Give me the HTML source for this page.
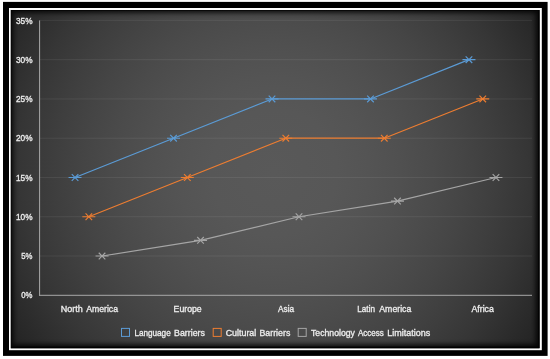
<!DOCTYPE html>
<html lang="en"><head><meta charset="utf-8"><title>Chart</title>
<style>
html,body{margin:0;padding:0;background:#fff;}
body{width:550px;height:359px;overflow:hidden;position:relative;}
svg{display:block;position:absolute;left:0;top:0;}
text{font-family:"Liberation Sans",Arial,sans-serif;font-size:8.7px;fill:#ececec;stroke:#ececec;stroke-width:0.32px;}
</style></head><body>
<svg width="550" height="359" viewBox="0 0 550 359">
<defs>
<radialGradient id="bg" gradientUnits="userSpaceOnUse" cx="274" cy="172" r="316">
<stop offset="0.0" stop-color="#595959"/>
<stop offset="0.1" stop-color="#585858"/>
<stop offset="0.2" stop-color="#575757"/>
<stop offset="0.3" stop-color="#545454"/>
<stop offset="0.4" stop-color="#505050"/>
<stop offset="0.5" stop-color="#4b4b4b"/>
<stop offset="0.6" stop-color="#454545"/>
<stop offset="0.7" stop-color="#3e3e3e"/>
<stop offset="0.8" stop-color="#363636"/>
<stop offset="0.9" stop-color="#2c2c2c"/>
<stop offset="1.0" stop-color="#222222"/>
</radialGradient>
<filter id="blur" x="-5%" y="-5%" width="110%" height="110%"><feGaussianBlur stdDeviation="2.6"/></filter>
<clipPath id="inner"><rect x="11" y="10.5" width="528" height="337.8"/></clipPath>
</defs>
<rect x="0" y="0" width="550" height="359" fill="#ffffff"/>
<rect x="3" y="1.9" width="544.6" height="354.0" fill="#000000"/>
<rect x="9" y="8" width="532.8" height="342.2" fill="#ffffff"/>
<rect x="10.7" y="10" width="529.1" height="338.3" fill="#000000"/>
<rect x="11.4" y="10.8" width="526.8" height="335.8" fill="url(#bg)"/>
<g clip-path="url(#inner)"><rect x="9.8" y="9.3" width="529.4" height="338.6" fill="none" stroke="#000" stroke-opacity="0.85" stroke-width="7" filter="url(#blur)"/></g>

<line x1="39.6" x2="532.0" y1="256.03" y2="256.03" stroke="#ffffff" stroke-opacity="0.075" stroke-width="1"/>
<line x1="39.6" x2="532.0" y1="216.76" y2="216.76" stroke="#ffffff" stroke-opacity="0.075" stroke-width="1"/>
<line x1="39.6" x2="532.0" y1="177.49" y2="177.49" stroke="#ffffff" stroke-opacity="0.075" stroke-width="1"/>
<line x1="39.6" x2="532.0" y1="138.21" y2="138.21" stroke="#ffffff" stroke-opacity="0.075" stroke-width="1"/>
<line x1="39.6" x2="532.0" y1="98.94" y2="98.94" stroke="#ffffff" stroke-opacity="0.075" stroke-width="1"/>
<line x1="39.6" x2="532.0" y1="59.67" y2="59.67" stroke="#ffffff" stroke-opacity="0.075" stroke-width="1"/>
<line x1="39.6" x2="532.0" y1="20.40" y2="20.40" stroke="#ffffff" stroke-opacity="0.075" stroke-width="1"/>
<line x1="39.6" x2="39.6" y1="20.40" y2="295.8" stroke="#a8a8a8" stroke-width="1"/>
<line x1="39.1" x2="532.0" y1="295.3" y2="295.3" stroke="#a8a8a8" stroke-width="1"/>
<text x="21.30" y="298.40" textLength="11.2" lengthAdjust="spacingAndGlyphs">0%</text>
<text x="21.30" y="259.13" textLength="11.2" lengthAdjust="spacingAndGlyphs">5%</text>
<text x="16.00" y="219.86" textLength="16.5" lengthAdjust="spacingAndGlyphs">10%</text>
<text x="16.00" y="180.59" textLength="16.5" lengthAdjust="spacingAndGlyphs">15%</text>
<text x="16.00" y="141.31" textLength="16.5" lengthAdjust="spacingAndGlyphs">20%</text>
<text x="16.00" y="102.04" textLength="16.5" lengthAdjust="spacingAndGlyphs">25%</text>
<text x="16.00" y="62.77" textLength="16.5" lengthAdjust="spacingAndGlyphs">30%</text>
<text x="16.00" y="23.50" textLength="16.5" lengthAdjust="spacingAndGlyphs">35%</text>
<text y="311.9"><tspan x="60.70" textLength="22.00" lengthAdjust="spacingAndGlyphs">North</tspan> <tspan x="86.20" textLength="31.80" lengthAdjust="spacingAndGlyphs">America</tspan></text>
<text y="311.9"><tspan x="173.60" textLength="28.10" lengthAdjust="spacingAndGlyphs">Europe</tspan></text>
<text y="311.9"><tspan x="278.10" textLength="16.10" lengthAdjust="spacingAndGlyphs">Asia</tspan></text>
<text y="311.9"><tspan x="357.30" textLength="17.70" lengthAdjust="spacingAndGlyphs">Latin</tspan> <tspan x="379.30" textLength="32.00" lengthAdjust="spacingAndGlyphs">America</tspan></text>
<text y="311.9"><tspan x="471.50" textLength="22.30" lengthAdjust="spacingAndGlyphs">Africa</tspan></text>
<polyline fill="none" stroke="#5b9bd5" stroke-width="1.2" stroke-linejoin="round" points="75.04,177.49 173.52,138.21 272.00,98.94 370.48,98.94 468.96,59.67"/>
<path d="M71.74 174.19L78.34 180.79M71.74 180.79L78.34 174.19M68.54 177.49L81.54 177.49" stroke="#5b9bd5" stroke-width="1.15" fill="none"/>
<path d="M170.22 134.91L176.82 141.51M170.22 141.51L176.82 134.91M167.02 138.21L180.02 138.21" stroke="#5b9bd5" stroke-width="1.15" fill="none"/>
<path d="M268.70 95.64L275.30 102.24M268.70 102.24L275.30 95.64M265.50 98.94L278.50 98.94" stroke="#5b9bd5" stroke-width="1.15" fill="none"/>
<path d="M367.18 95.64L373.78 102.24M367.18 102.24L373.78 95.64M363.98 98.94L376.98 98.94" stroke="#5b9bd5" stroke-width="1.15" fill="none"/>
<path d="M465.66 56.37L472.26 62.97M465.66 62.97L472.26 56.37M462.46 59.67L475.46 59.67" stroke="#5b9bd5" stroke-width="1.15" fill="none"/>
<polyline fill="none" stroke="#ed7d31" stroke-width="1.2" stroke-linejoin="round" points="88.84,216.76 187.32,177.49 285.80,138.21 384.28,138.21 482.76,98.94"/>
<path d="M85.54 213.46L92.14 220.06M85.54 220.06L92.14 213.46M82.34 216.76L95.34 216.76" stroke="#ed7d31" stroke-width="1.15" fill="none"/>
<path d="M184.02 174.19L190.62 180.79M184.02 180.79L190.62 174.19M180.82 177.49L193.82 177.49" stroke="#ed7d31" stroke-width="1.15" fill="none"/>
<path d="M282.50 134.91L289.10 141.51M282.50 141.51L289.10 134.91M279.30 138.21L292.30 138.21" stroke="#ed7d31" stroke-width="1.15" fill="none"/>
<path d="M380.98 134.91L387.58 141.51M380.98 141.51L387.58 134.91M377.78 138.21L390.78 138.21" stroke="#ed7d31" stroke-width="1.15" fill="none"/>
<path d="M479.46 95.64L486.06 102.24M479.46 102.24L486.06 95.64M476.26 98.94L489.26 98.94" stroke="#ed7d31" stroke-width="1.15" fill="none"/>
<polyline fill="none" stroke="#a5a5a5" stroke-width="1.2" stroke-linejoin="round" points="102.04,256.03 200.52,240.32 299.00,216.76 397.48,201.05 495.96,177.49"/>
<path d="M98.74 252.73L105.34 259.33M98.74 259.33L105.34 252.73M95.54 256.03L108.54 256.03" stroke="#a5a5a5" stroke-width="1.15" fill="none"/>
<path d="M197.22 237.02L203.82 243.62M197.22 243.62L203.82 237.02M194.02 240.32L207.02 240.32" stroke="#a5a5a5" stroke-width="1.15" fill="none"/>
<path d="M295.70 213.46L302.30 220.06M295.70 220.06L302.30 213.46M292.50 216.76L305.50 216.76" stroke="#a5a5a5" stroke-width="1.15" fill="none"/>
<path d="M394.18 197.75L400.78 204.35M394.18 204.35L400.78 197.75M390.98 201.05L403.98 201.05" stroke="#a5a5a5" stroke-width="1.15" fill="none"/>
<path d="M492.66 174.19L499.26 180.79M492.66 180.79L499.26 174.19M489.46 177.49L502.46 177.49" stroke="#a5a5a5" stroke-width="1.15" fill="none"/>
<rect x="121.5" y="328.4" width="8" height="8" fill="none" stroke="#5b9bd5" stroke-width="1"/>
<text y="336"><tspan x="134.40" textLength="36.30" lengthAdjust="spacingAndGlyphs">Language</tspan> <tspan x="174.10" textLength="30.80" lengthAdjust="spacingAndGlyphs">Barriers</tspan></text>
<rect x="213.2" y="328.4" width="8" height="8" fill="none" stroke="#ed7d31" stroke-width="1"/>
<text y="336"><tspan x="225.70" textLength="30.60" lengthAdjust="spacingAndGlyphs">Cultural</tspan> <tspan x="259.50" textLength="30.80" lengthAdjust="spacingAndGlyphs">Barriers</tspan></text>
<rect x="298.2" y="328.4" width="8" height="8" fill="none" stroke="#a5a5a5" stroke-width="1"/>
<text y="336"><tspan x="311.00" textLength="43.90" lengthAdjust="spacingAndGlyphs">Technology</tspan> <tspan x="357.90" textLength="25.80" lengthAdjust="spacingAndGlyphs">Access</tspan> <tspan x="387.30" textLength="42.90" lengthAdjust="spacingAndGlyphs">Limitations</tspan></text>
</svg></body></html>
